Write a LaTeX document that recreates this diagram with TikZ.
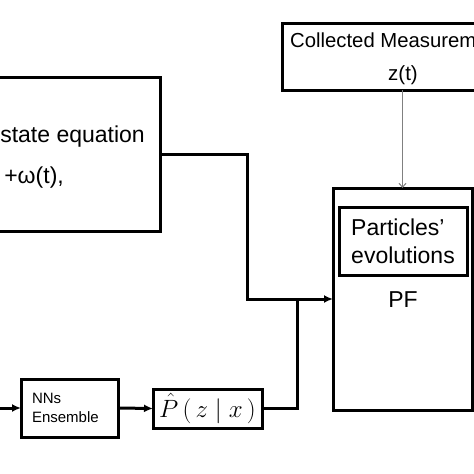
\RequirePackage{fix-cm}
\documentclass[tikz,border=0pt]{standalone}
\usepackage{fontspec}
\setmainfont{Liberation Sans}
\usetikzlibrary{arrows.meta, positioning, calc}

\begin{document}
\begin{tikzpicture}[
        x=1pt, y=-1pt,
        % Style for the thick framed blocks
        block/.style={draw, line width=3pt, inner sep=0pt, outer sep=0pt},
        % Style for the plain labels
        label/.style={inner sep=0pt, font=\fontsize{23}{28}\selectfont},
        % Style for the thick connectors
        link/.style={line width=3pt},
        flow/.style={line width=3pt, -{Latex[length=9pt, width=8pt]}},
        % Style for the thin measurement arrow
        feed/.style={gray, line width=1pt, -{Straight Barb[length=4pt, width=7pt]}}
    ]
    \clip (0,0) rectangle (474,474);

    % --- System block (cut by the left border) ---
    \node[block, minimum width=360pt, minimum height=154pt] (sys) at (-20,154) {};
    \node[label, anchor=east] (syseq) at (145,137) {state equation};
    \node[label, anchor=east] (sysnoise) at (64,178) {+ω(t),};

    % --- Measurement block (cut by the right border) ---
    \node[block, minimum width=248pt, minimum height=67pt] (meas) at (406,56.5) {};
    \node[label, anchor=west, font=\fontsize{20.3}{24}\selectfont] (meastxt) at (290,40) {Collected Measurem};
    \node[label, font=\fontsize{20.5}{24}\selectfont] (zt) at (403,75) {z(t)};

    % --- Particle filter block ---
    \node[block, minimum width=139pt, minimum height=222pt] (pf) at (402.5,299) {};
    \node[block, minimum width=128pt, minimum height=68pt, align=left,
          font=\fontsize{23}{28}\selectfont] (evol) at (403,241) {Particles'\\evolutions};
    \node[label] (pftxt) at (403,300) {PF};

    % --- Learning chain ---
    \node[block, minimum width=97pt, minimum height=58pt, text width=75pt, align=left,
          font=\fontsize{15}{19}\selectfont] (nns) at (69.5,408) {NNs\\Ensemble};
    \node[block, minimum width=109pt, minimum height=39pt,
          font=\fontsize{25}{28}\selectfont] (lik) at (207.5,408.5) {$\hat{P}\,(\,z\mid x\,)$};

    % --- Connectors ---
    \coordinate (input) at (-5,408);
    \coordinate (join) at (297,299);
    \draw[flow] (input) -- (nns.west);
    \draw[flow] (nns.east) -- (lik.west);
    \draw[flow] (sys.east) -- ++(87,0) |- (pf.west);
    \draw[link] (lik.east) -| (join);
    \draw[feed] (pf.north |- meas.south) -- (pf.north);
\end{tikzpicture}
\end{document}
